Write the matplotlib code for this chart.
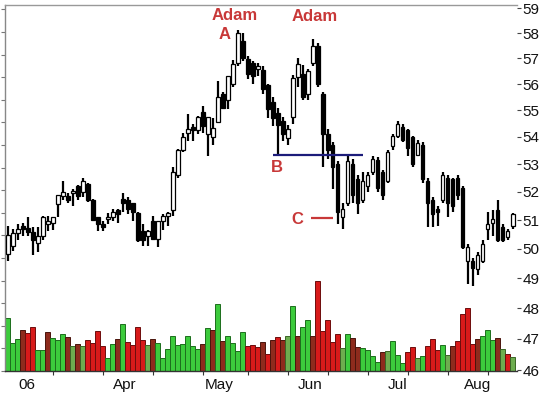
import numpy as np
import matplotlib
matplotlib.use("Agg")
import matplotlib.pyplot as plt
from matplotlib.ticker import FixedLocator, NullLocator, FuncFormatter

# ---------------- data ----------------
opens = [49.83, 50.1, 50.55, 50.8, 50.72, 50.58, 50.2, 50.45, 50.85, 50.9,
         51.55, 51.85, 51.85, 51.95, 52.2, 52.0, 52.28, 51.72, 51.1, 50.85,
         51.05, 51.1, 51.35, 51.75, 51.7, 51.6, 51.25, 50.6, 50.45, 50.95,
         50.35, 50.95, 51.15, 51.35, 52.6, 53.5, 54.15, 54.38, 54.25, 54.95,
         54.1, 54.0, 54.55, 55.6, 55.4, 56.0, 56.8, 57.7, 56.96, 56.8,
         56.6, 56.55, 55.95, 55.3, 54.9, 54.6, 53.95, 54.75, 56.26, 56.4,
         55.6, 56.8, 57.5, 55.6, 54.1, 53.7, 53.0, 51.1, 51.6, 53.0,
         52.45, 51.7, 52.2, 52.7, 53.15, 52.7, 52.4, 53.65, 54.05, 54.38,
         54.25, 54.0, 53.35, 53.7, 52.4, 51.7, 51.4, 51.7, 52.5, 52.45,
         52.5, 52.15, 49.6, 49.6, 49.3, 49.6, 50.7, 50.9, 51.35, 50.75,
         50.4, 50.8]
highs = [50.79, 50.7, 50.87, 50.9, 51.1, 50.75, 50.75, 51.15, 51.15, 51.12,
         51.88, 52.4, 51.95, 52.1, 52.25, 52.5, 52.3, 51.75, 51.1, 50.95,
         51.25, 51.38, 51.38, 51.95, 51.8, 51.6, 51.3, 50.85, 50.65, 51.15,
         50.95, 51.22, 51.3, 52.88, 53.55, 54.15, 54.85, 54.5, 54.8, 55.15,
         54.75, 54.7, 56.1, 55.7, 56.3, 56.95, 58.13, 58.0, 57.1, 56.9,
         56.8, 56.7, 56.0, 55.5, 55.1, 54.75, 54.45, 56.35, 57.0, 56.75,
         56.6, 57.75, 57.6, 55.7, 54.3, 53.8, 53.1, 51.6, 53.3, 53.2,
         52.6, 52.7, 52.7, 53.3, 53.25, 52.8, 53.5, 54.1, 54.6, 54.5,
         54.3, 54.05, 53.9, 53.8, 52.5, 51.8, 51.5, 52.7, 52.6, 52.5,
         52.6, 52.2, 50.15, 49.7, 49.9, 50.3, 51.3, 51.35, 51.7, 50.85,
         50.7, 51.25]
lows = [49.6, 49.93, 50.3, 50.45, 50.45, 49.8, 49.9, 50.3, 50.6, 50.65,
        51.1, 51.7, 51.6, 51.5, 51.7, 51.8, 51.65, 50.98, 50.6, 50.6,
        50.85, 50.95, 50.9, 51.3, 51.2, 50.95, 50.25, 50.1, 50.1, 50.35,
        50.05, 50.65, 50.8, 51.15, 52.5, 53.45, 53.85, 53.85, 54.1, 54.15,
        53.3, 53.7, 54.55, 55.05, 55.05, 55.9, 56.7, 56.9, 56.2, 56.0,
        56.3, 55.6, 54.7, 54.4, 53.33, 53.85, 53.7, 54.5, 55.9, 55.4,
        55.4, 56.7, 55.9, 52.9, 53.2, 52.1, 50.85, 50.7, 51.5, 51.6,
        51.2, 51.6, 52.0, 52.6, 52.0, 51.7, 52.3, 53.5, 53.95, 53.8,
        53.3, 52.9, 53.3, 52.3, 50.75, 50.75, 50.8, 51.6, 51.1, 51.3,
        51.7, 50.0, 48.8, 48.74, 49.1, 49.5, 50.3, 50.45, 50.25, 50.25,
        50.3, 50.7]
closes = [50.48, 50.55, 50.68, 50.7, 50.58, 50.3, 50.45, 51.12, 50.98, 51.1,
          51.88, 52.0, 51.7, 52.02, 51.85, 52.4, 51.7, 51.0, 50.85, 50.75,
          51.12, 51.3, 51.2, 51.6, 51.4, 51.3, 50.3, 50.32, 50.6, 50.35,
          50.95, 51.15, 51.25, 52.7, 53.5, 53.98, 54.3, 54.25, 54.75, 54.4,
          54.75, 54.35, 55.5, 55.1, 56.3, 56.77, 58.0, 57.0, 56.4, 56.3,
          56.7, 55.8, 55.05, 54.7, 54.45, 54.1, 54.3, 56.25, 56.77, 55.5,
          56.5, 57.5, 56.0, 54.1, 53.5, 52.9, 51.3, 51.4, 53.1, 51.9,
          51.6, 52.4, 52.6, 53.2, 52.15, 51.9, 53.45, 54.05, 54.5, 53.88,
          53.6, 53.0, 53.78, 52.45, 51.6, 51.2, 51.3, 52.6, 51.6, 51.5,
          51.9, 50.05, 50.07, 49.33, 49.8, 50.15, 50.86, 51.05, 50.3, 50.3,
          50.6, 51.2]
volumes = [2.33, 1.23, 1.40, 1.81, 1.67, 1.96, 0.93, 0.93, 1.73, 1.45,
           1.37, 1.62, 1.50, 1.09, 1.18, 1.09, 1.36, 1.23, 1.77, 1.09,
           0.56, 1.18, 1.40, 2.07, 1.28, 1.14, 1.93, 1.36, 1.14, 1.40,
           1.23, 0.56, 0.96, 1.54, 1.14, 1.18, 1.54, 1.09, 0.96, 1.18,
           1.89, 1.80, 2.95, 1.31, 1.54, 1.23, 0.87, 1.71, 1.09, 1.14,
           1.05, 1.27, 0.74, 1.36, 1.49, 1.37, 1.55, 2.88, 1.55, 1.93,
           2.26, 1.55, 3.98, 1.77, 2.26, 1.30, 1.62, 1.00, 1.62, 1.45,
           1.05, 1.00, 0.93, 0.66, 0.41, 0.83, 0.88, 1.33, 0.71, 0.34,
           0.85, 1.05, 0.56, 0.66, 1.11, 1.40, 0.93, 1.15, 0.71, 1.11,
           1.33, 2.52, 2.77, 1.18, 1.40, 1.54, 1.81, 1.37, 1.45, 0.96,
           0.74, 0.61]
volume_kind = ("GGGrRRGGrG" "GGrgrgRRRR" "GGrGRRRRgr" "GGGGGGGGGr" "GrGrGGGGRR"
               "RrRrRrgGrG" "GrRRRRRgGr" "rGGGGrgGGG" "RRgGRRRGgr" "RRRRrGGGrg" "Rg")

price_ticks = list(range(46, 60))
volume_ticks = list(range(0, 17))
week_ticks = [9, 19, 29, 39, 48, 56, 64, 72, 80, 88, 96]
month_labels = ["06", "Apr", "May", "Jun", "Jul", "Aug"]
month_pos = [3.8, 23.5, 42.3, 60.5, 78.1, 94.1]

# ---------------- styles ----------------
face_map = {"G": "#3ccb3c", "g": "#6dad4f", "R": "#d81a1a", "r": "#8e2b1d"}
edge_map = {"G": "#1d6e1d", "g": "#3a6526", "R": "#6e0d0d", "r": "#4a150c"}
label_red = "#c83838"

plt.rcParams["font.family"] = ["Liberation Sans", "DejaVu Sans"]

W, H = 548, 400
fig = plt.figure(figsize=(W / 100, H / 100), dpi=100)
fig.patch.set_facecolor("white")
ax = fig.add_axes([5 / W, 1 - 371 / H, 512 / W, 366 / H])
axv = ax.twinx()

n = len(closes)
x = np.arange(n)

# volume
axv.bar(x, volumes, width=1.0,
        color=[face_map[k] for k in volume_kind],
        edgecolor=[edge_map[k] for k in volume_kind],
        linewidth=0.7, zorder=1)
axv.set_ylim(0, 366 / 22.6)
axv.yaxis.tick_left()
axv.yaxis.set_major_locator(FixedLocator(volume_ticks))
axv.yaxis.set_minor_locator(NullLocator())
axv.tick_params(axis="y", which="major", direction="out", length=3,
                width=0.8, colors="#777777", labelleft=False, labelright=False)
for s in ["right", "top", "bottom"]:
    axv.spines[s].set_visible(False)
axv.spines["left"].set_color("#888888")
axv.spines["left"].set_linewidth(1.0)

# price candles
ax.set_zorder(axv.get_zorder() + 1)
ax.patch.set_visible(False)
o = np.array(opens); c = np.array(closes)
hi = np.array(highs); lo = np.array(lows)
ax.vlines(x, lo, hi, color="black", linewidth=1.6, zorder=2)
up = c >= o
bottoms = np.minimum(o, c)
heights = np.maximum(np.abs(c - o), 0.04)
ax.bar(x[up], heights[up], bottom=bottoms[up], width=0.8,
       color="white", edgecolor="black", linewidth=0.9, zorder=3)
ax.bar(x[~up], heights[~up], bottom=bottoms[~up], width=0.8,
       color="black", edgecolor="black", linewidth=0.9, zorder=3)

ax.set_yscale("log")
ax.set_ylim(45.97, 59.13)
ax.set_xlim(-0.5, 101.9)
ax.yaxis.tick_right()
ax.yaxis.set_major_locator(FixedLocator(price_ticks))
ax.yaxis.set_minor_locator(NullLocator())
ax.yaxis.set_major_formatter(FuncFormatter(lambda v, p: f"{int(round(v))}"))
ax.tick_params(axis="y", which="major", direction="out", length=3, width=0.8,
               colors="#444444", labelcolor="#111111", labelsize=11, pad=1)

ax.set_xticks(week_ticks)
ax.set_xticklabels([])
ax.set_xticks(month_pos, minor=True)
ax.set_xticklabels(month_labels, minor=True)
ax.tick_params(axis="x", which="major", direction="out", length=3, width=0.8,
               colors="#333333")
ax.tick_params(axis="x", which="minor", length=0, pad=5, labelsize=11,
               labelcolor="#111111")

for s in ["right", "left"]:
    ax.spines[s].set_visible(False)
ax.spines["top"].set_color("#999999")
ax.spines["top"].set_linewidth(1.0)
ax.spines["bottom"].set_color("#333333")
ax.spines["bottom"].set_linewidth(1.0)

# annotations
b_idx = 54
ax.hlines(lows[b_idx], b_idx - 0.9, 71.1, color="#1c1c7a", linewidth=1.6, zorder=4)
ax.text(45.5, 58.69, "Adam", color=label_red, fontsize=12, fontweight="bold",
        ha="center", va="center", zorder=5)
ax.text(43.5, 57.93, "A", color=label_red, fontsize=12, fontweight="bold",
        ha="center", va="center", zorder=5)
ax.text(61.5, 58.65, "Adam", color=label_red, fontsize=12, fontweight="bold",
        ha="center", va="center", zorder=5)
ax.text(53.9, 52.86, "B", color=label_red, fontsize=12, fontweight="bold",
        ha="center", va="center", zorder=5)
ax.text(58.0, 51.03, "C", color=label_red, fontsize=12, fontweight="bold",
        ha="center", va="center", zorder=5)
ax.hlines(51.07, 60.7, 65.1, color=label_red, linewidth=1.6, zorder=5)

fig.savefig("out.png", dpi=100, facecolor="white")
